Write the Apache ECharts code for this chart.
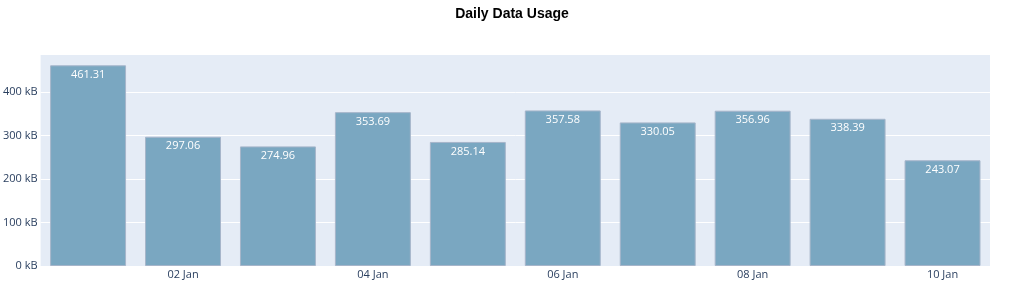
<!DOCTYPE html>
<html>
<head>
<meta charset="utf-8">
<script src="https://cdn.jsdelivr.net/npm/echarts@6/dist/echarts.min.js"></script>
<style>html,body{margin:0;padding:0;background:#fff;}#c{width:1024px;height:304px;}</style>
</head>
<body>
<div id="c"></div>
<script>
const categories = ['01 Jan','02 Jan','03 Jan','04 Jan','05 Jan','06 Jan','07 Jan','08 Jan','09 Jan','10 Jan'];
const usageKB = [461.31, 297.06, 274.96, 353.69, 285.14, 357.58, 330.05, 356.96, 338.39, 243.07];
const yTicks = [0, 100, 200, 300, 400];

const chart = echarts.init(document.getElementById('c'), null, {renderer: 'canvas'});
chart.setOption({
  animation: false,
  backgroundColor: '#ffffff',
  title: {
    text: 'Daily Data Usage',
    left: 'center',
    top: 2,
    textStyle: {fontFamily: 'Liberation Sans', fontWeight: 'bold', fontSize: 14, color: '#000'}
  },
  grid: {left: 39, right: 34, top: 55, bottom: 38, show: true, backgroundColor: '#E5ECF6', borderWidth: 0},
  xAxis: {
    type: 'category',
    data: categories,
    axisLine: {show: false},
    axisTick: {show: false},
    axisLabel: {
      interval: function (i) { return i % 2 === 1; },
      color: '#2a3f5f', fontFamily: 'Open Sans', fontSize: 11, margin: 3
    }
  },
  yAxis: {
    type: 'value',
    min: 0, max: 485, interval: 100,
    axisLine: {show: false},
    axisTick: {show: false},
    splitLine: {show: true, showMaxLine: false, lineStyle: {color: '#ffffff', width: 1}},
    axisLabel: {
      showMaxLabel: false,
      formatter: function (v) { return yTicks.indexOf(v) >= 0 ? v + ' kB' : ''; },
      color: '#2a3f5f', fontFamily: 'Open Sans', fontSize: 11, margin: 3
    }
  },
  series: [{
    type: 'bar',
    data: usageKB,
    barCategoryGap: '20%',
    itemStyle: {color: '#7AA7C1', borderColor: '#A6B5CA', borderWidth: 1},
    label: {
      show: true, position: 'insideTop', distance: 4,
      formatter: function (p) { return p.value.toFixed(2); },
      color: '#ffffff', fontFamily: 'Open Sans', fontSize: 11
    }
  }]
});
</script>
</body>
</html>
